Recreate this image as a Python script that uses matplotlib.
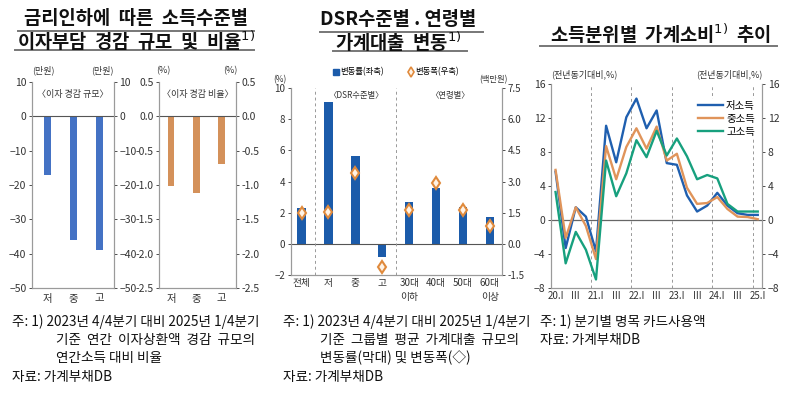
import matplotlib.pyplot as plt
from matplotlib.lines import Line2D
import numpy as np

plt.rcParams['font.family'] = ['Liberation Sans Narrow', 'Noto Sans CJK KR', 'DejaVu Sans']
plt.rcParams['axes.unicode_minus'] = True

# 패널 1: 이자부담 경감 규모(만원) 및 비율(%)
groups1 = ['저', '중', '고']
relief_amount = [-17.2, -36.0, -39.0]
relief_ratio = [-1.02, -1.12, -0.70]

# 패널 2: DSR수준별/연령별 가계대출 변동
groups2 = ['전체', '저', '중', '고', '30대\n이하', '40대', '50대', '60대\n이상']
loan_rate = [2.3, 9.1, 5.65, -0.85, 2.7, 3.6, 2.35, 1.7]     # 변동률(%)
loan_diff = [1.5, 1.55, 3.4, -1.1, 1.65, 2.95, 1.65, 0.85]   # 변동폭(백만원)

# 패널 3: 소득분위별 가계소비 추이 (20.I ~ 25.I)
q_labels = ['20.I', 'III', '21.I', 'III', '22.I', 'III', '23.I', 'III', '24.I', 'III', '25.I']
low_inc = [5.7, -3.3, 1.5, 0.4, -3.7, 11.1, 6.8, 12.1, 14.3, 10.8, 12.9,
           6.7, 6.5, 2.9, 1.0, 1.7, 3.2, 1.7, 0.8, 0.6, 0.6]
mid_inc = [5.9, -2.1, 1.5, -0.7, -4.6, 8.7, 4.8, 8.6, 10.8, 8.4, 11.0,
           7.0, 7.8, 3.8, 1.9, 2.0, 2.7, 1.3, 0.4, 0.35, 0.1]
high_inc = [3.3, -5.1, -1.4, -3.5, -7.0, 7.0, 2.8, 5.5, 9.4, 7.4, 10.5,
            7.6, 9.6, 7.5, 4.8, 5.3, 4.9, 1.9, 1.0, 1.0, 1.0]

BLUE1 = '#4472C4'
ORANGE1 = '#D4915A'
BLUE2 = '#1B5BAA'
ORANGE2 = '#E08A3C'
SPINE = '#9a9a9a'
TXT = '#333333'


def style_axes(ax, fs=7.5):
    ax.spines['top'].set_visible(False)
    for s in ['left', 'right', 'bottom']:
        ax.spines[s].set_color(SPINE)
        ax.spines[s].set_linewidth(0.8)
    ax.tick_params(labelsize=fs, colors=TXT, length=2, width=0.6, pad=2)
    ax.tick_params(axis='x', length=0)


fig = plt.figure(figsize=(8, 3.95), dpi=100)

# ---------- 패널 1 (왼쪽: 규모) ----------
ax1 = fig.add_axes([0.04, 0.271, 0.1025, 0.5215])
x1 = np.arange(len(groups1))
ax1.bar(x1, relief_amount, width=0.27, color=BLUE1)
ax1.axhline(0, color='#555555', lw=0.8)
ax1.set_xlim(-0.6, 2.55)
ax1.set_ylim(-50, 10)
ax1.set_yticks(np.arange(-50, 11, 10))
ax1.set_xticks(x1)
ax1.set_xticklabels(groups1)
style_axes(ax1)
ax1.tick_params(axis='x', labelsize=7.5, pad=4)
ax1r = ax1.twinx()
ax1r.set_ylim(-50, 10)
ax1r.set_yticks(np.arange(-50, 11, 10))
style_axes(ax1r)
ax1.text(0.5, 0.94, '〈이자 경감 규모〉', transform=ax1.transAxes,
         ha='center', va='center', fontsize=6.5, color=TXT)
ax1.text(0.14, 1.04, '(만원)', transform=ax1.transAxes, ha='center', fontsize=6.5, color=TXT)
ax1.text(0.86, 1.04, '(만원)', transform=ax1.transAxes, ha='center', fontsize=6.5, color=TXT)

# ---------- 패널 1 (오른쪽: 비율) ----------
ax2 = fig.add_axes([0.199, 0.271, 0.096, 0.5215])
ax2.bar(x1, relief_ratio, width=0.26, color=ORANGE1)
ax2.axhline(0, color='#555555', lw=0.8)
ax2.set_xlim(-0.47, 2.57)
ax2.set_ylim(-2.5, 0.5)
ax2.set_yticks(np.arange(-2.5, 0.51, 0.5))
ax2.yaxis.set_major_formatter(plt.FormatStrFormatter('%.1f'))
ax2.set_xticks(x1)
ax2.set_xticklabels(groups1)
style_axes(ax2)
ax2.tick_params(axis='x', labelsize=7.5, pad=4)
ax2r = ax2.twinx()
ax2r.set_ylim(-2.5, 0.5)
ax2r.set_yticks(np.arange(-2.5, 0.51, 0.5))
ax2r.yaxis.set_major_formatter(plt.FormatStrFormatter('%.1f'))
style_axes(ax2r)
ax2.text(0.5, 0.94, '〈이자 경감 비율〉', transform=ax2.transAxes,
         ha='center', va='center', fontsize=6.5, color=TXT)
ax2.text(0.05, 1.04, '(%)', transform=ax2.transAxes, ha='center', fontsize=6.5, color=TXT)
ax2.text(0.92, 1.04, '(%)', transform=ax2.transAxes, ha='center', fontsize=6.5, color=TXT)

# ---------- 패널 2 ----------
ax3 = fig.add_axes([0.3635, 0.304, 0.264, 0.473])
x2 = np.arange(len(groups2))
ax3.bar(x2, loan_rate, width=0.31, color=BLUE2)
ax3.axhline(0, color='#555555', lw=0.8)
ax3.axvline(0.5, color='#999999', lw=0.7, ls=(0, (3, 3)))
ax3.axvline(3.5, color='#999999', lw=0.7, ls=(0, (3, 3)))
ax3.set_xlim(-0.4, 7.45)
ax3.set_ylim(-2, 10)
ax3.set_yticks(np.arange(-2, 11, 2))
ax3.set_xticks(x2)
ax3.set_xticklabels(groups2, fontsize=7, va='top', linespacing=1.5)
style_axes(ax3, fs=7)
ax3r = ax3.twinx()
ax3r.plot(x2, loan_diff, ls='none', marker='d', ms=6.5, mfc='#FFF3E6',
          mec=ORANGE2, mew=1.5)
ax3r.set_ylim(-1.5, 7.5)
ax3r.set_yticks(np.arange(-1.5, 7.51, 1.5))
ax3r.yaxis.set_major_formatter(plt.FormatStrFormatter('%.1f'))
style_axes(ax3r, fs=7)
ax3.text(2.0, 9.5, '〈DSR수준별〉', ha='center', va='center', fontsize=6, color=TXT)
ax3.text(5.5, 9.5, '〈연령별〉', ha='center', va='center', fontsize=6, color=TXT)
ax3.text(-0.05, 1.03, '(%)', transform=ax3.transAxes, ha='center', fontsize=6, color=TXT)
ax3.text(0.96, 1.03, '(백만원)', transform=ax3.transAxes, ha='center', fontsize=6, color=TXT)
handles = [Line2D([], [], ls='none', marker='s', ms=4, color=BLUE2),
           Line2D([], [], ls='none', marker='d', ms=5, mfc='#FFF3E6', mec=ORANGE2, mew=1.2)]
ax3.legend(handles, ['변동률(좌축)', '변동폭(우축)'], loc='lower center',
           bbox_to_anchor=(0.5, 1.04), ncol=2, frameon=False, fontsize=6,
           handlelength=0.6, handletextpad=0.2, columnspacing=3, borderpad=0)

# ---------- 패널 3 ----------
ax4 = fig.add_axes([0.689, 0.271, 0.264, 0.516])
xq = np.arange(len(low_inc))
for b in [3.5, 7.5, 11.5, 15.5, 19.5]:
    ax4.axvline(b, color='#999999', lw=0.7, ls=(0, (3, 3)))
ax4.axhline(0, color='#666666', lw=0.9)
ax4.plot(xq, low_inc, color='#1F5FAF', lw=1.7, label='저소득')
ax4.plot(xq, mid_inc, color='#E0945A', lw=1.7, label='중소득')
ax4.plot(xq, high_inc, color='#17A07E', lw=1.7, label='고소득')
ax4.set_xlim(-0.43, 20.46)
ax4.set_ylim(-8, 16)
ax4.set_yticks(np.arange(-8, 17, 4))
ax4.set_xticks(xq[::2])
ax4.set_xticklabels(q_labels)
style_axes(ax4, fs=7.5)
ax4.tick_params(axis='x', labelsize=7)
ax4r = ax4.twinx()
ax4r.set_ylim(-8, 16)
ax4r.set_yticks(np.arange(-8, 17, 4))
style_axes(ax4r, fs=7.5)
leg = ax4.legend(loc='upper left', bbox_to_anchor=(0.66, 0.955), fontsize=7.5,
                 frameon=True, handlelength=2.4, handletextpad=0.3,
                 labelspacing=0.3, borderpad=0.2)
leg.get_frame().set_facecolor('white')
leg.get_frame().set_edgecolor('none')
leg.get_frame().set_alpha(1)
ax4.text(0.0, 1.035, '(전년동기대비,%)', transform=ax4.transAxes, ha='left', fontsize=6.5, color=TXT)
ax4.text(1.0, 1.035, '(전년동기대비,%)', transform=ax4.transAxes, ha='right', fontsize=6.5, color=TXT)

# ---------- 제목 ----------
tfs = 13.5
def title(x, y, s):
    fig.text(x / 800, 1 - y / 395, s, ha='center', va='center', fontsize=tfs,
             weight='bold', color='#111111', linespacing=1.05)

title(136, 31, '금리인하에  따른  소득수준별\n' + r'이자부담  경감  규모  및  비율$^{1)}$')
title(398, 32, 'DSR수준별 . 연령별\n' + r'가계대출  변동$^{1)}$')
title(660, 34, r'소득분위별  가계소비$^{1)}$  추이')
for (xa, xb, yy) in [(18, 254, 31), (15, 254, 49.5), (320, 483, 32), (333, 467, 51), (540, 777, 46)]:
    fig.add_artist(Line2D([xa / 800, xb / 800], [1 - yy / 395] * 2, color='#777777', lw=1.4))

# ---------- 주석 ----------
nfs = 9.8
def note(x, y, s):
    fig.text(x / 800, 1 - y / 395, s, ha='left', va='center', fontsize=nfs, color='#111111')

note(12, 322, '주: 1) 2023년 4/4분기 대비 2025년 1/4분기')
note(56, 340, '기준  연간  이자상환액  경감  규모의')
note(56, 358, '연간소득 대비 비율')
note(12, 377, '자료: 가계부채DB')
note(283, 322, '주: 1) 2023년 4/4분기 대비 2025년 1/4분기')
note(320, 340, '기준  그룹별  평균  가계대출  규모의')
note(320, 358, '변동률(막대) 및 변동폭(◇)')
note(283, 377, '자료: 가계부채DB')
note(540, 322, '주: 1) 분기별 명목 카드사용액')
note(540, 340, '자료: 가계부채DB')

fig.savefig('out.png', dpi=100)
